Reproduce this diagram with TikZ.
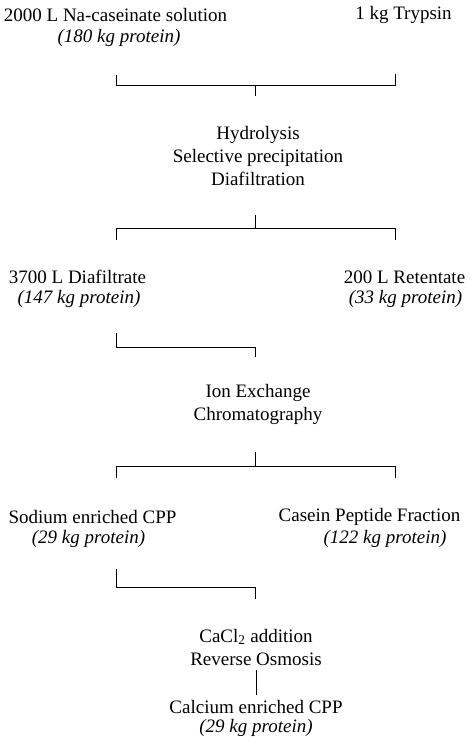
\documentclass[tikz,border=0pt]{standalone}
\usepackage{fontspec}
\setmainfont{Liberation Serif}
\usetikzlibrary{positioning}
\begin{document}
\begin{tikzpicture}[x=1pt,y=-1pt,line width=0.8pt,
		txt/.style={inner sep=0pt,align=center,font=\fontsize{19}{23}\selectfont},
		amt/.style={txt,font=\fontsize{19}{23}\selectfont\itshape}]
		\useasboundingbox (0,0) rectangle (474,747);
		% inputs
		\node[txt] (NaCas) at (115.5,15) {2000 L Na-caseinate solution};
		\node[amt] (NaCasP) at (119,38) {(180 kg protein)};
		\node[txt] (Tryp) at (403.5,15) {1 kg Trypsin};
		% step one
		\node[txt] (Hydro) at (258,156) {Hydrolysis\\Selective precipitation\\Diafiltration};
		% products of step one
		\node[txt] (Diaf) at (77.5,277) {3700 L Diafiltrate};
		\node[amt] (DiafP) at (79,299) {(147 kg protein)};
		\node[txt] (Ret) at (404.5,277) {200 L Retentate};
		\node[amt] (RetP) at (405.5,299) {(33 kg protein)};
		% step two
		\node[txt] (IonEx) at (258,404) {Ion Exchange\\Chromatography};
		% products of step two
		\node[txt] (NaCPP) at (92.5,517) {Sodium enriched CPP};
		\node[amt] (NaCPPP) at (88.5,539) {(29 kg protein)};
		\node[txt] (CPF) at (369.5,517) {Casein Peptide Fraction};
		\node[amt] (CPFP) at (385,539) {(122 kg protein)};
		% step three
		\node[txt] (CaCl) at (256,647) {CaCl\textsubscript{2} addition\\Reverse Osmosis};
		\node[txt] (CaCPP) at (256,707) {Calcium enriched CPP};
		\node[amt] (CaCPPP) at (256,728) {(29 kg protein)};
		%
		\coordinate (A1) at (116,75);
		\coordinate (A2) at (116,85);
		\coordinate (A3) at (395,85);
		\coordinate (A4) at (395,74);
		\coordinate (A5) at (255,85);
		\coordinate (A6) at (255,96);
		%
		\coordinate (B1) at (255,215);
		\coordinate (B2) at (255,228);
		\coordinate (B3) at (116,228);
		\coordinate (B4) at (116,240);
		\coordinate (B5) at (395,228);
		\coordinate (B6) at (395,240);
		%
		\coordinate (C1) at (116,333);
		\coordinate (C2) at (116,347);
		\coordinate (C3) at (255,347);
		\coordinate (C4) at (255,357);
		%
		\coordinate (D1) at (255,452);
		\coordinate (D2) at (255,466);
		\coordinate (D3) at (116,466);
		\coordinate (D4) at (116,478);
		\coordinate (D5) at (395,466);
		\coordinate (D6) at (395,478);
		%
		\coordinate (E1) at (116,569);
		\coordinate (E2) at (116,587);
		\coordinate (E3) at (255,587);
		\coordinate (E4) at (255,599);
		%
		\coordinate (F1) at (256,670);
		\coordinate (F2) at (256,695);
		%
		% brackets
		\draw (A1) -- (A2) -- (A3) -- (A4);
		\draw (A5) -- (A6);
		\draw (B4) -- (B3) -- (B5) -- (B6);
		\draw (B1) -- (B2);
		\draw (C1) -- (C2) -- (C3) -- (C4);
		\draw (D4) -- (D3) -- (D5) -- (D6);
		\draw (D1) -- (D2);
		\draw (E1) -- (E2) -- (E3) -- (E4);
		% last link
		\draw (F1) -- (F2);
	\end{tikzpicture}
\end{document}
